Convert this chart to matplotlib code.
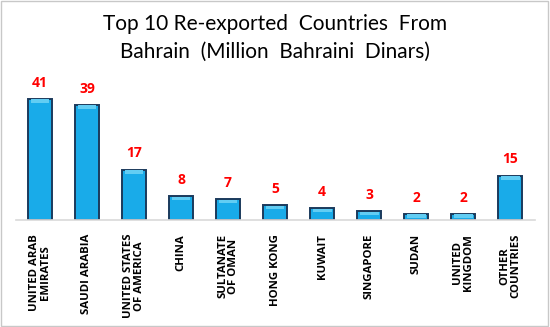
import matplotlib.pyplot as plt
from matplotlib.patches import Rectangle

countries = ['UNITED ARAB\nEMIRATES', 'SAUDI ARABIA', 'UNITED STATES\nOF AMERICA',
             'CHINA', 'SULTANATE\nOF OMAN', 'HONG KONG', 'KUWAIT', 'SINGAPORE',
             'SUDAN', 'UNITED\nKINGDOM', 'OTHER\nCOUNTRIES']
values = [41, 39, 17, 8, 7, 5, 4, 3, 2, 2, 15]

plt.rcParams['font.family'] = ['Lato', 'DejaVu Sans']

fig = plt.figure(figsize=(5.5, 3.27), dpi=100)
ax = fig.add_axes([0.029, 0.327, 0.944, 0.46])

x = range(len(values))
ax.bar(x, values, width=0.51, color='#19ABE9', edgecolor='#1B3A5C', linewidth=1.4, zorder=2)
# lighter bevel on top of each bar
ax.bar(x, [1.2] * len(values), bottom=[v - 1.3 for v in values], width=0.40,
       color='#62CDF3', linewidth=0, zorder=3)

for i, v in enumerate(values):
    ax.text(i, v + 3.2, str(v), ha='center', va='bottom', color='#FF0000',
            fontsize=10, fontweight='bold', family='Open Sans')

ax.set_xlim(-0.51, 10.53)
ax.set_ylim(0, 51)
ax.set_xticks(list(x))
ax.set_xticklabels(countries, rotation=90, fontsize=8.2, fontweight='bold',
                   ha='center', va='top', multialignment='center', family='Open Sans',
                   linespacing=1.0)
ax.tick_params(axis='x', length=0, pad=10)
ax.set_yticks([])
for s in ['top', 'right', 'left']:
    ax.spines[s].set_visible(False)
ax.spines['bottom'].set_color('#D9D9D9')
ax.spines['bottom'].set_linewidth(1.2)

fig.text(0.5, 0.885, 'Top 10 Re-exported  Countries  From\nBahrain  (Million  Bahraini  Dinars)',
         ha='center', va='center', fontsize=15, linespacing=1.5, color='#000000')

fig.patches.append(Rectangle((0.002, 0.003), 0.995, 0.993, transform=fig.transFigure,
                             fill=False, edgecolor='#C8C8C8', linewidth=1))

fig.savefig('out.png', dpi=100)
